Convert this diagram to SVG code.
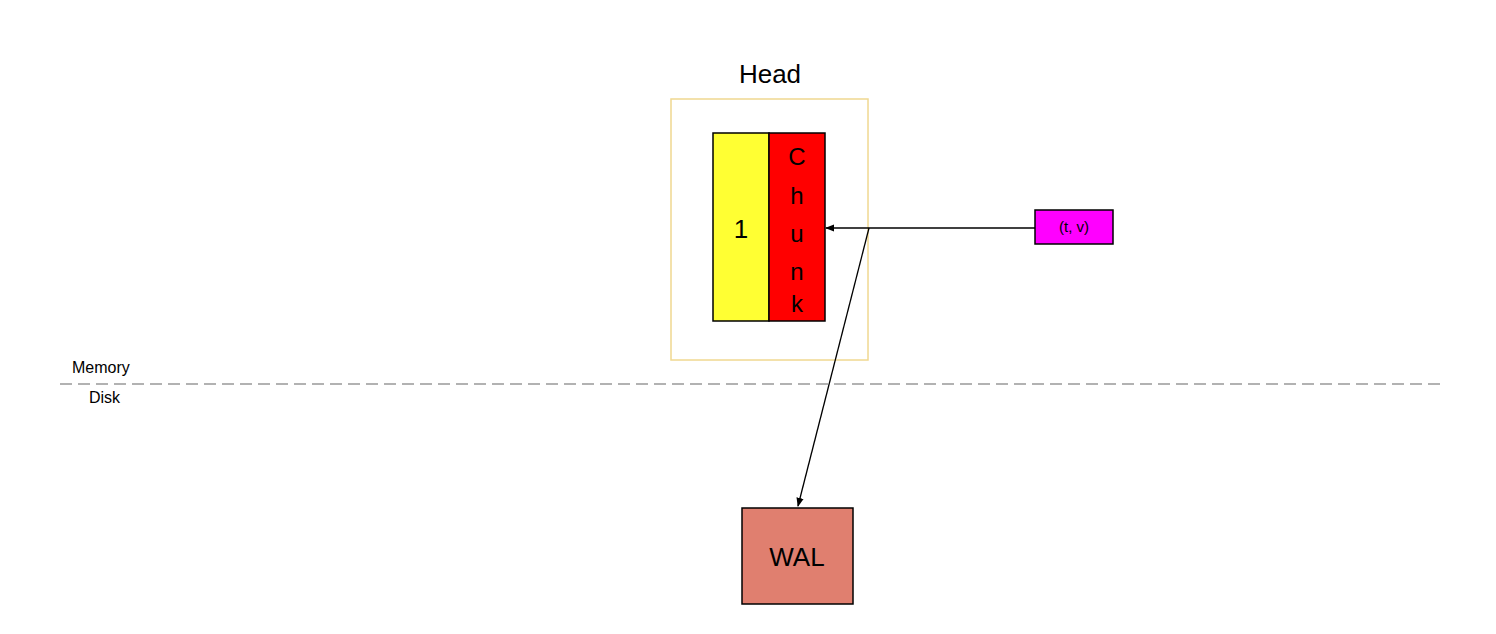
<svg xmlns="http://www.w3.org/2000/svg" width="1496" height="634" viewBox="0 0 1496 634">
<style>
text{font-family:"Liberation Sans",Arial,sans-serif;fill:#000}
.b{stroke:#000;stroke-width:1.5}
.c{stroke:#000;stroke-width:1.3;fill:none}
</style>
<defs><marker id="a" viewBox="0 0 10 10" refX="9" refY="5" markerWidth="7" markerHeight="7" orient="auto"><path d="M0,1 L10,5 L0,9 z" fill="#000"/></marker></defs>
<rect width="1496" height="634" fill="#fff"/>
<g id="divider">
<line x1="60" y1="384" x2="1440" y2="384" stroke="#999" stroke-width="1.3" stroke-dasharray="12,6"/>
<text x="72" y="373" font-size="16">Memory</text>
<text x="89" y="403" font-size="16">Disk</text>
</g>
<g id="head">
<rect x="671" y="99" width="197" height="261" fill="none" stroke="#f0d890" stroke-width="1.5"/>
<text x="770" y="83" font-size="26" text-anchor="middle">Head</text>
</g>
<g id="series">
<rect x="713" y="133" width="56" height="188" fill="#ffff33" class="b"/>
<text x="741" y="238" font-size="26" text-anchor="middle">1</text>
</g>
<g id="chunk">
<rect x="769" y="133" width="56" height="188" fill="#ff0000" class="b"/>
<g font-size="24" text-anchor="middle"><text x="797" y="165">C</text><text x="797" y="204">h</text><text x="797" y="242">u</text><text x="797" y="280">n</text><text x="797" y="312">k</text></g>
</g>
<g id="sample">
<rect x="1035" y="210" width="78" height="34" fill="#ff00ff" class="b"/>
<text x="1074" y="232" font-size="15" text-anchor="middle">(t, v)</text>
</g>
<g id="wal">
<rect x="742" y="508" width="111" height="96" fill="#e07f6f" class="b"/>
<text x="797" y="566" font-size="26" text-anchor="middle">WAL</text>
</g>
<g id="connectors">
<line x1="1035" y1="228" x2="826" y2="228" class="c" marker-end="url(#a)"/>
<line x1="869" y1="228" x2="798" y2="506" class="c" marker-end="url(#a)"/>
</g>
</svg>
